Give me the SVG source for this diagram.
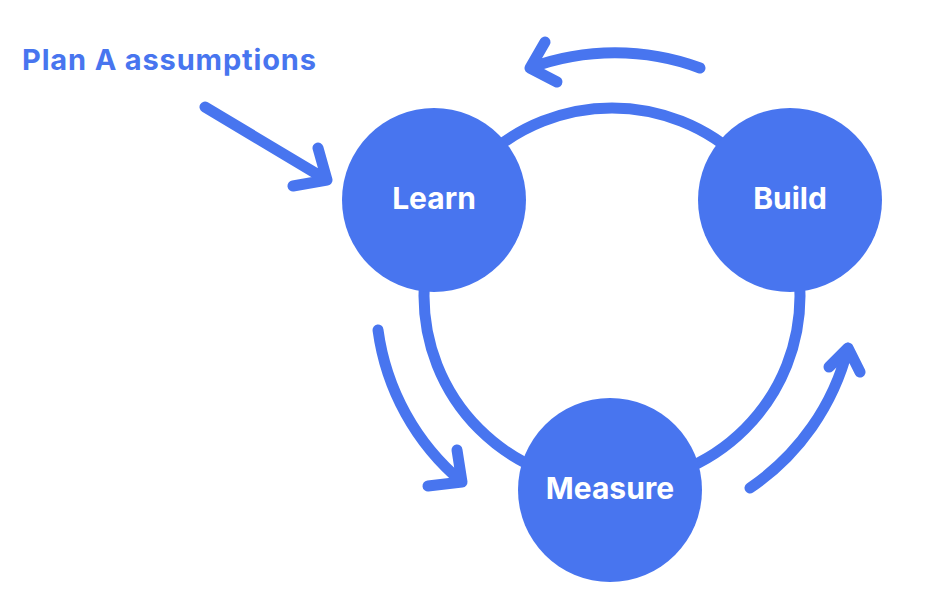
<svg xmlns="http://www.w3.org/2000/svg" width="942" height="612" viewBox="0 0 942 612">
<style>
.ln{fill:none;stroke:#4875ef;stroke-width:11;stroke-linecap:round;stroke-linejoin:round}
.nd{fill:#4875ef}
.lb{fill:#fff;font-family:Inter,"Liberation Sans",sans-serif;font-weight:700;font-size:30px;text-anchor:middle}
</style>
<rect width="942" height="612" fill="#fff"/>
<text x="22" y="70" textLength="294" style="fill:#4875ef;font-family:Inter,'Liberation Sans',sans-serif;font-weight:700;font-size:29px">Plan A assumptions</text>
<g id="connectors">
<circle cx="612" cy="296" r="188" class="ln"/>
<path class="ln" d="M700,68 A245,245 0 0,0 530,68 M545,42 L530,68 L557,82"/>
<path class="ln" d="M378,330 A240,240 0 0,0 462,482 M428,486 L462,482 L457,450"/>
<path class="ln" d="M750,488 A240,240 0 0,0 848,348 M829,367 L848,348 L860,372"/>
<path class="ln" d="M205,107 L327,180 M293,186 L327,180 L318,148"/>
</g>
<g id="learn"><circle class="nd" cx="434" cy="200" r="92"/><text class="lb" x="434" y="209">Learn</text></g>
<g id="build"><circle class="nd" cx="790" cy="200" r="92"/><text class="lb" x="790" y="209">Build</text></g>
<g id="measure"><circle class="nd" cx="610" cy="490" r="92"/><text class="lb" x="610" y="499">Measure</text></g>
</svg>
